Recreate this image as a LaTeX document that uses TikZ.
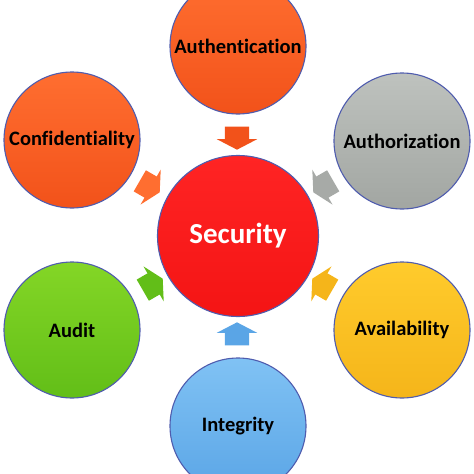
\documentclass[tikz,border=0pt]{standalone}
\usepackage{fontspec}
\setmainfont{Carlito}[Ligatures=NoCommon]
\usepackage{xcolor}
\usetikzlibrary{shapes,arrows}

\definecolor{ringblue}{HTML}{4F5CAE}
\definecolor{orangeA}{HTML}{FF6E30}
\definecolor{orangeB}{HTML}{F2521A}
\definecolor{greyA}{HTML}{BEC2BE}
\definecolor{greyB}{HTML}{A2A6A2}
\definecolor{redA}{HTML}{FF2424}
\definecolor{redB}{HTML}{F41414}
\definecolor{yellowA}{HTML}{FFCB2C}
\definecolor{yellowB}{HTML}{F5B51A}
\definecolor{greenA}{HTML}{84D626}
\definecolor{greenB}{HTML}{62BE18}
\definecolor{blueA}{HTML}{80C2F4}
\definecolor{blueB}{HTML}{5AA5E6}

\begin{document}
\begin{tikzpicture}[
    x=1pt, y=-1pt,
    topic/.style={circle, draw=ringblue, line width=1.1pt, minimum size=136pt, inner sep=0pt,
                  font=\fontsize{20.5}{22}\selectfont\bfseries, text=black},
    core/.style={topic, minimum size=161pt, font=\fontsize{29}{31}\selectfont\bfseries, text=white},
    pointer/.style={single arrow, draw=none, inner xsep=0pt, inner ysep=12pt, minimum height=23pt,
                    single arrow head extend=8pt, single arrow tip angle=125}
]
\useasboundingbox (0,0) rectangle (474,474);
\clip (0,0) rectangle (474,474);

% centre
\node[core, top color=redA, bottom color=redB] (security) at (238,236) {Security};

% surrounding circles
\node[topic, top color=orangeA, bottom color=orangeB] (authn) at (238,46) {Authentication};
\node[topic, top color=greyA, bottom color=greyB] (authz) at (402,141) {Authorization};
\node[topic, top color=yellowA, bottom color=yellowB] (avail) at (402,330) {Availability};
\node[topic, top color=blueA, bottom color=blueB] (integ) at (238,426) {Integrity};
\node[topic, top color=greenA, bottom color=greenB] (audit) at (72,330) {Audit};
\node[topic, top color=orangeA, bottom color=orangeB] (confid) at (72,140) {Confidentiality};

% arrows towards the centre
\node[pointer, fill=orangeB, rotate=-90] (p-authn) at (237,135) {};
\node[pointer, fill=greyB!95!white, rotate=-150] (p-authz) at (326,185) {};
\node[pointer, fill=yellowB, rotate=150] (p-avail) at (325,286) {};
\node[pointer, fill=blueB, rotate=90] (p-integ) at (237,337) {};
\node[pointer, fill=greenB, rotate=30] (p-audit) at (150,286) {};
\node[pointer, fill=orangeA, rotate=-30] (p-confid) at (147,185) {};

\end{tikzpicture}
\end{document}
